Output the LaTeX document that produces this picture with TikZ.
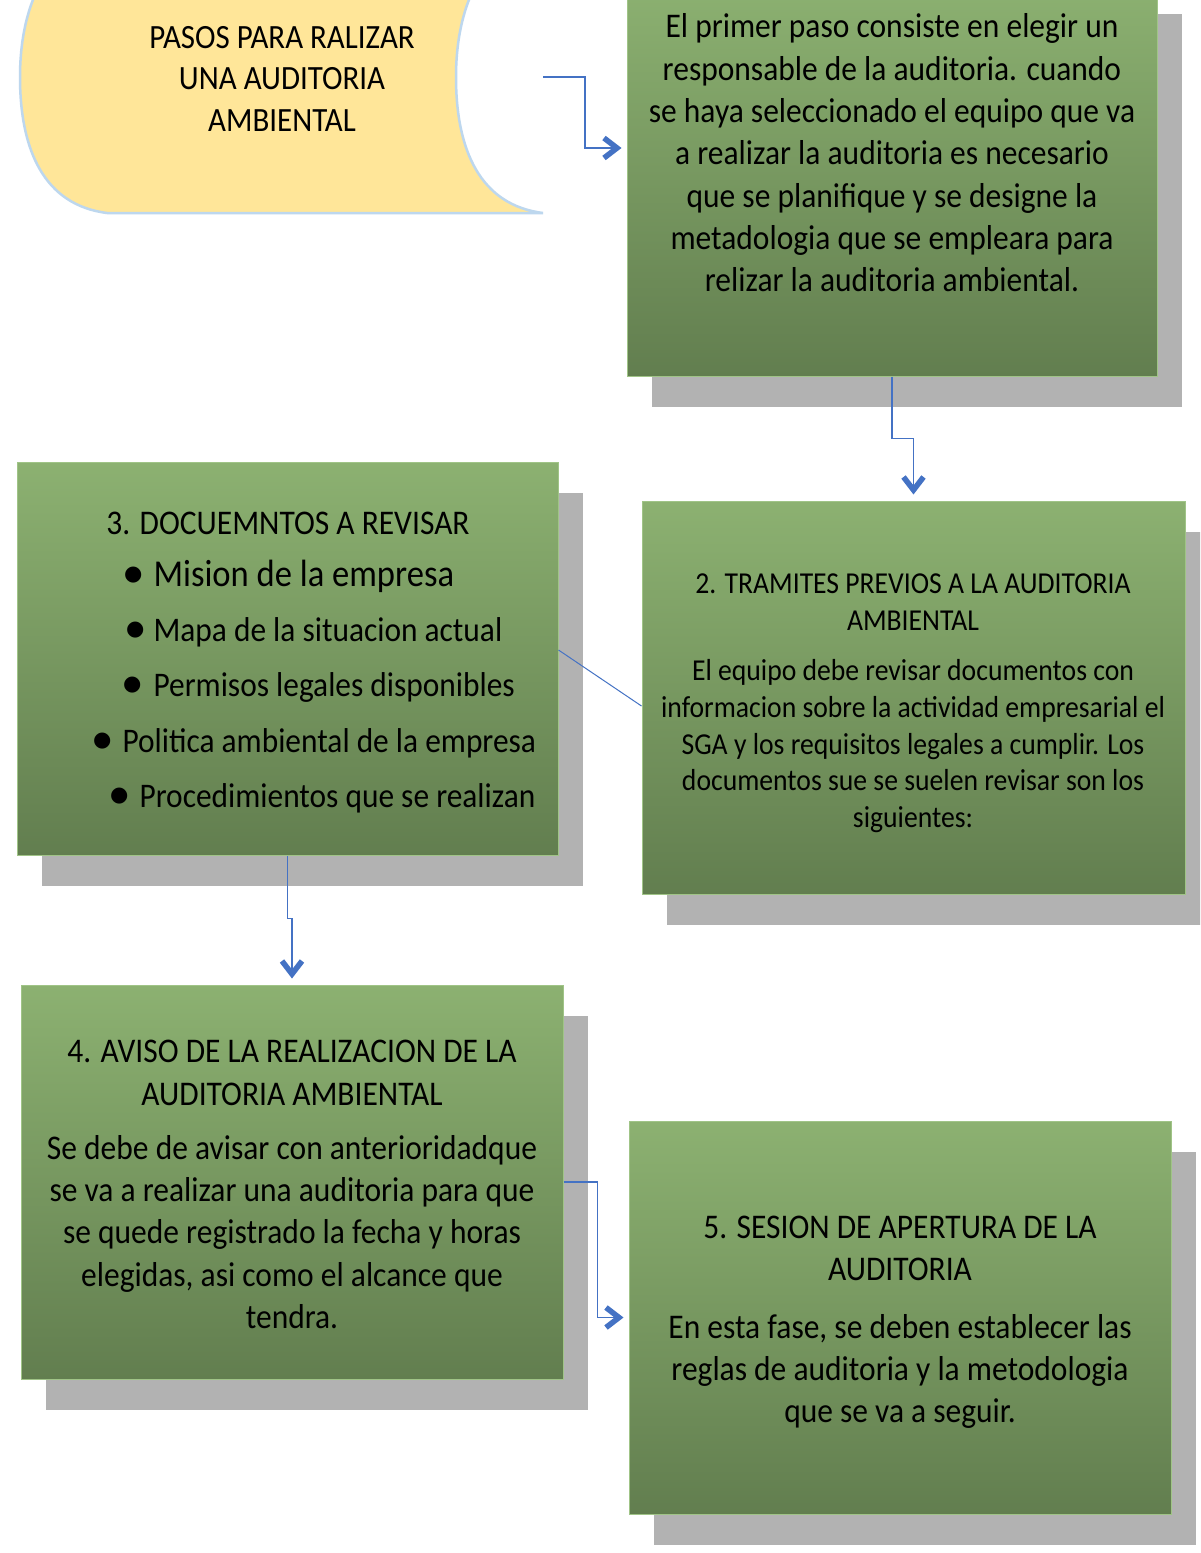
\documentclass[tikz,border=0pt]{standalone}
\usepackage{fontspec}
\setmainfont{Carlito}[FakeStretch=0.91]
\newfontfamily\bulfont{DejaVu Sans}
\usetikzlibrary{arrows.meta,shadows}
\definecolor{gtop}{RGB}{140,177,113}
\definecolor{gbot}{RGB}{98,126,79}
\definecolor{gedge}{RGB}{160,196,135}
\definecolor{shgray}{RGB}{178,178,178}
\definecolor{ylw}{RGB}{255,230,153}
\definecolor{ylwedge}{RGB}{189,215,238}
\definecolor{arr}{RGB}{68,114,196}
\newcommand{\bul}{\raisebox{6pt}{\bulfont\fontsize{21}{21}\selectfont ●}}
\begin{document}
\begin{tikzpicture}[x=1pt,y=-1pt,
  gbox/.style={rectangle, inner sep=0pt, top color=gtop, bottom color=gbot,
    draw=gedge, line width=1pt,
    drop shadow={opacity=1, fill=shgray, shadow xshift=25pt, shadow yshift=-31pt}},
  txt/.style={align=center, inner sep=0pt, text=black},
  big/.style={font=\fontsize{34.6}{42.3}\selectfont},
  small/.style={font=\fontsize{30.4}{36.8}\selectfont},
  bline/.style={anchor=west, inner sep=0pt, text=black, font=\fontsize{34.5}{42}\selectfont},
  flow/.style={draw=arr, line width=1.4pt, -{Straight Barb[length=13pt,width=20pt,line width=5.5pt 0]}},
  conn/.style={draw=arr, line width=1pt},
]
\useasboundingbox (0,0) rectangle (1200,1553);
\clip (0,0) rectangle (1200,1553);
\fill[white] (0,0) rectangle (1200,1553);

% title shape
\draw[draw=ylwedge, line width=2.5pt, fill=ylw]
  (107,-63) .. controls (44,-55) and (20,10) .. (20,77)
  .. controls (20,150) and (44,205) .. (107,213)
  -- (543,213) .. controls (480,205) and (456,150) .. (456,77)
  .. controls (456,10) and (480,-55) .. (543,-63) -- cycle;
\coordinate (yelR) at (543,77);
\node[txt, font=\fontsize{34}{41.5}\selectfont] (pasos) at (282,78.5)
  {PASOS PARA RALIZAR\\UNA AUDITORIA\\AMBIENTAL};

% boxes
\node[gbox, minimum width=530pt, minimum height=393pt] (box1) at (892,179.5) {};
\node[gbox, minimum width=543pt, minimum height=393pt] (box2) at (913.5,697.5) {};
\node[gbox, minimum width=541pt, minimum height=393pt] (box3) at (287.5,658.5) {};
\node[gbox, minimum width=542pt, minimum height=394pt] (box4) at (292,1182) {};
\node[gbox, minimum width=542pt, minimum height=393pt] (box5) at (900,1317.5) {};

% texts
\node[txt, big] (t1) at (892,153)
  {El primer paso consiste en elegir un\\responsable de la auditoria. cuando\\se haya seleccionado el equipo que va\\a realizar la auditoria es necesario\\que se planifique y se designe la\\metadologia que se empleara para\\relizar la auditoria ambiental.};
\node[txt, small] (t2) at (913,703.5)
  {2. TRAMITES PREVIOS A LA AUDITORIA\\AMBIENTAL\\[13pt]El equipo debe revisar documentos con\\informacion sobre la actividad empresarial el\\SGA y los requisitos legales a cumplir. Los\\documentos sue se suelen revisar son los\\siguientes:};
\node[txt, big] (t3) at (288,523) {3. DOCUEMNTOS A REVISAR};
\node[bline, font=\fontsize{38}{42}\selectfont] (b1) at (124,576) {\bul\hspace{11pt}Mision de la empresa};
\node[bline] (b2) at (126,632) {\bul\hspace{9pt}Mapa de la situacion actual};
\node[bline] (b3) at (123,687) {\bul\hspace{12pt}Permisos legales disponibles};
\node[bline] (b4) at (93,743) {\bul\hspace{11pt}Politica ambiental de la empresa};
\node[bline] (b5) at (110,798) {\bul\hspace{11pt}Procedimientos que se realizan};
\node[txt, big] (t4) at (292,1184.5)
  {4. AVISO DE LA REALIZACION DE LA\\AUDITORIA AMBIENTAL\\[12pt]Se debe de avisar con anterioridadque\\se va a realizar una auditoria para que\\se quede registrado la fecha y horas\\elegidas, asi como el alcance que\\tendra.};
\node[txt, big] (t5) at (900,1322.5)
  {5. SESION DE APERTURA DE LA\\AUDITORIA\\[15pt]En esta fase, se deben establecer las\\reglas de auditoria y la metodologia\\que se va a seguir.};

% connectors
\draw[flow] (yelR) -- ++(42,0) |- ([yshift=31.5pt, xshift=-5pt]box1.west);
\draw[flow] (box1.south) -- ++(0,62) -| ([yshift=6pt]box2.north);
\draw[conn] ([yshift=8.5pt]box3.east) -- ([yshift=-8.5pt]box2.west);
\draw[flow] (box3.south) -- ++(0,63) -| ([yshift=6pt]box4.north);
\draw[flow] (box4.east) -- ++(34,0) |- ([xshift=-5pt]box5.west);
\end{tikzpicture}
\end{document}
